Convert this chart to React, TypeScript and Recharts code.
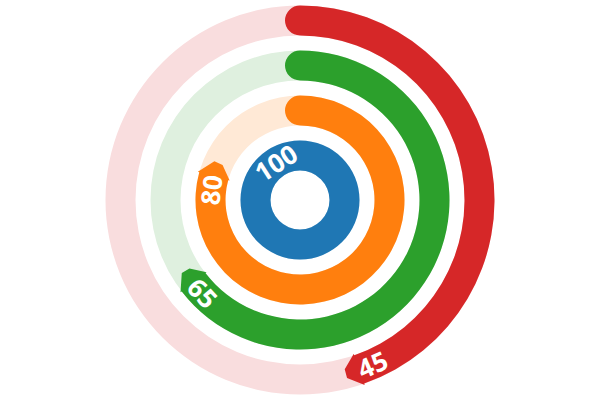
import { RadialBarChart, RadialBar, PolarAngleAxis } from 'recharts';

const names = ['Blue', 'Orange', 'Green', 'Red'];
const values = [100, 80, 65, 45];
const colors = ['#1f77b4', '#ff7f0e', '#2ca02c', '#d62728'];
const trackColors = ['#d2e4f0', '#ffe9d6', '#dff0df', '#f9ddde'];

const data = names.map((name, i) => ({ name, value: values[i] }));

const FONT_SIZE = 26;

// clockwise degrees from 12 o'clock
const pt = (cx: number, cy: number, r: number, deg: number) => {
  const a = (deg * Math.PI) / 180;
  return [cx + r * Math.sin(a), cy - r * Math.cos(a)];
};

function RingBar(props: any) {
  const { cx, cy, innerRadius, outerRadius, startAngle, endAngle, value } = props;
  const idx = props.index ?? names.indexOf(props.payload?.name);
  const rIn = innerRadius;
  const rOut = outerRadius;
  const half = (rOut - rIn) / 2;
  const rMid = rIn + half;
  const t0 = 90 - startAngle;
  const t1 = 90 - endAngle;
  const fill = colors[idx];
  const deg = (px: number, r: number) => (px / r) * (180 / Math.PI);

  const ring = (a: number, b: number) =>
    `M${cx - b},${cy} a${b},${b} 0 1,0 ${2 * b},0 a${b},${b} 0 1,0 ${-2 * b},0 ` +
    `M${cx - a},${cy} a${a},${a} 0 1,0 ${2 * a},0 a${a},${a} 0 1,0 ${-2 * a},0 Z`;

  let bar: string;
  const full = t1 - t0 >= 359.9;
  if (full) {
    bar = ring(rIn, rOut);
  } else {
    const tc = t1 - deg(4, rMid);
    const tip = t1 + deg(10, rMid);
    const large = tc - t0 > 180 ? 1 : 0;
    const [ox0, oy0] = pt(cx, cy, rOut, t0);
    const [ox1, oy1] = pt(cx, cy, rOut, tc);
    const [ox2, oy2] = pt(cx, cy, rOut + 1.5, tc);
    const [ta, tay] = pt(cx, cy, rMid + half * 0.3, tip);
    const [tb, tby] = pt(cx, cy, rMid - half * 0.3, tip);
    const [ix2, iy2] = pt(cx, cy, rIn - 1.5, tc);
    const [ix1, iy1] = pt(cx, cy, rIn, tc);
    const [ix0, iy0] = pt(cx, cy, rIn, t0);
    bar =
      `M${ox0},${oy0} A${rOut},${rOut} 0 ${large} 1 ${ox1},${oy1} ` +
      `L${ox2},${oy2} L${ta},${tay} L${tb},${tby} L${ix2},${iy2} L${ix1},${iy1} ` +
      `A${rIn},${rIn} 0 ${large} 0 ${ix0},${iy0} ` +
      `A${half},${half} 0 0 1 ${ox0},${oy0} Z`;
  }

  const text = String(value);
  const estW = text.length * 0.58 * FONT_SIZE;
  const tl = t1 - deg(estW / 2 + 3, rMid);
  const [lx, ly] = pt(cx, cy, rMid, tl);
  let rot = ((tl % 360) + 360) % 360;
  if (rot > 180) rot -= 360;
  if (rot > 90) rot -= 180;
  if (rot < -90) rot += 180;

  return (
    <g>
      <path d={ring(rIn, rOut)} fill={trackColors[idx]} fillRule="evenodd" />
      <path d={bar} fill={fill} fillRule="evenodd" />
      <text
        x={lx}
        y={ly}
        fill="#ffffff"
        fontSize={FONT_SIZE}
        fontWeight={700}
        fontFamily="'Open Sans', sans-serif"
        textAnchor="middle"
        dominantBaseline="central"
        transform={`rotate(${rot} ${lx} ${ly})`}
      >
        {text}
      </text>
    </g>
  );
}

export default function App() {
  return (
    <div style={{ position: 'absolute', left: 0, top: 0, width: 600, height: 400, background: '#fff' }}>
      <RadialBarChart
        width={600}
        height={400}
        cx={300}
        cy={200}
        data={data}
        innerRadius={21.5}
        outerRadius={201.5}
        startAngle={90}
        endAngle={-270}
        barSize={30}
        margin={{ top: 0, right: 0, bottom: 0, left: 0 }}
      >
        <PolarAngleAxis type="number" domain={[0, 100]} tick={false} axisLine={false} />
        <RadialBar dataKey="value" shape={RingBar} isAnimationActive={false} />
      </RadialBarChart>
    </div>
  );
}
